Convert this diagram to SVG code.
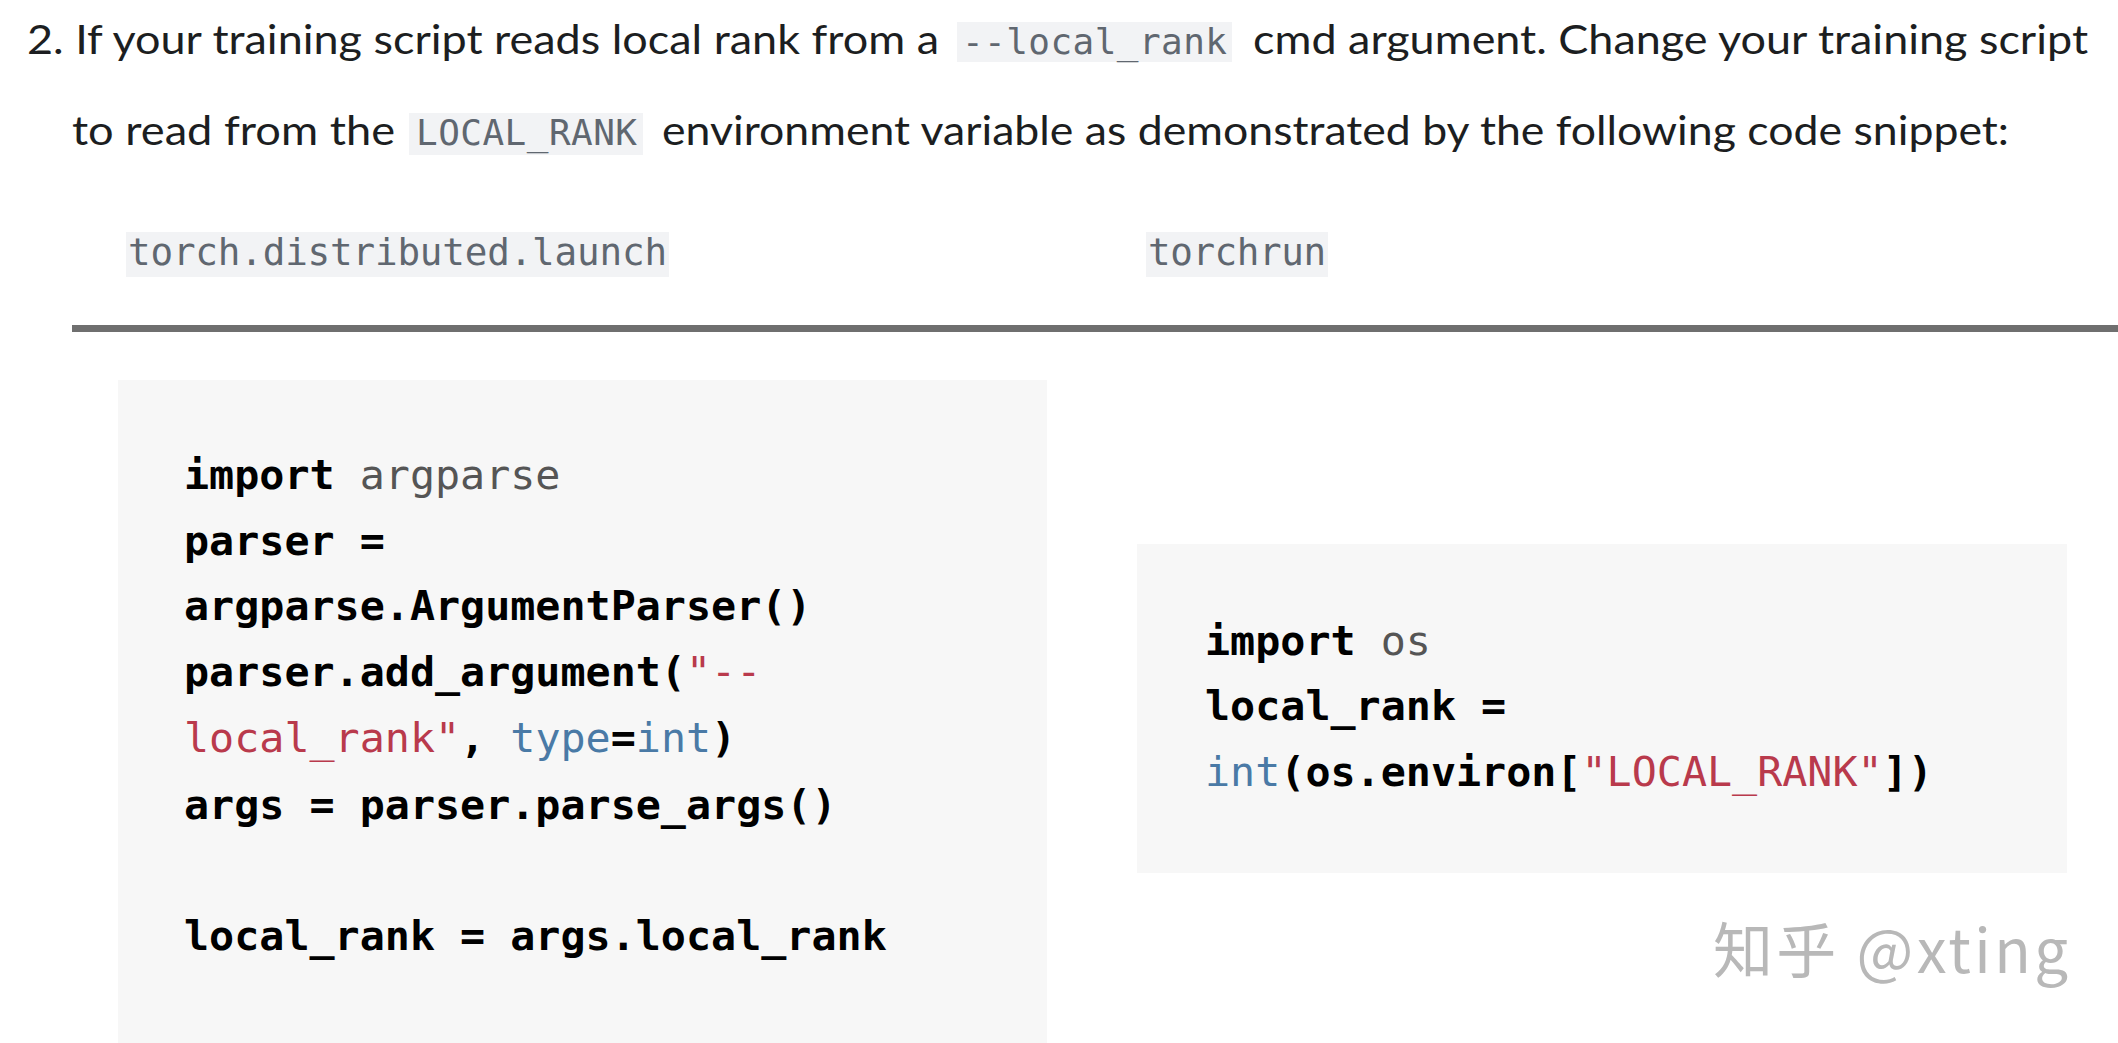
<svg xmlns="http://www.w3.org/2000/svg" width="2118" height="1043" viewBox="0 0 2118 1043">
<style>
.body{font-family:Lato,"Open Sans","Liberation Sans",sans-serif;font-size:40px;fill:#1c1e21}
.ic{font-family:"DejaVu Sans Mono","Liberation Mono",monospace;font-size:36px;fill:#606770}
.icbg{fill:#f2f3f5}
.code{font-family:"DejaVu Sans Mono","Liberation Mono",monospace;font-size:41.7px;font-weight:bold;fill:#000}
.g{fill:#555}.r{fill:#b93a4c;font-weight:normal}.b{fill:#4a7aa6;font-weight:normal}.gn{fill:#555;font-weight:normal}
.box{fill:#f7f7f7}
</style>
<rect width="2118" height="1043" fill="#fff"/>
<g id="intro">
<text class="body" x="27" y="54" textLength="912" lengthAdjust="spacingAndGlyphs">2. If your training script reads local rank from a</text>
<rect class="icbg" x="957" y="22" width="275" height="40"/>
<text class="ic" x="962" y="54" textLength="265">--local_rank</text>
<text class="body" x="1253" y="54" textLength="835" lengthAdjust="spacingAndGlyphs">cmd argument. Change your training script</text>
<text class="body" x="72" y="145" textLength="323" lengthAdjust="spacingAndGlyphs">to read from the</text>
<rect class="icbg" x="409" y="113" width="234" height="42"/>
<text class="ic" x="416" y="145" textLength="221">LOCAL_RANK</text>
<text class="body" x="662" y="145" textLength="1347" lengthAdjust="spacingAndGlyphs">environment variable as demonstrated by the following code snippet:</text>
</g>
<g id="tabs">
<rect class="icbg" x="126" y="232" width="543" height="45"/>
<text class="ic" x="128" y="265" textLength="539" style="font-size:37.6px">torch.distributed.launch</text>
<rect class="icbg" x="1146" y="232" width="182" height="45"/>
<text class="ic" x="1148" y="265" textLength="178" style="font-size:37.6px">torchrun</text>
<rect x="72" y="325" width="2046" height="7" fill="#6f6f6f"/>
</g>
<g id="left-code">
<rect class="box" x="118" y="380" width="929" height="663"/>
<text class="code" x="184" y="489">import <tspan class="gn">argparse</tspan></text>
<text class="code" x="184" y="555">parser =</text>
<text class="code" x="184" y="620">argparse.ArgumentParser()</text>
<text class="code" x="184" y="686">parser.add_argument(<tspan class="r">"--</tspan></text>
<text class="code" x="184" y="752"><tspan class="r">local_rank"</tspan>, <tspan class="b">type</tspan>=<tspan class="b">int</tspan>)</text>
<text class="code" x="184" y="819">args = parser.parse_args()</text>
<text class="code" x="184" y="950">local_rank = args.local_rank</text>
</g>
<g id="right-code">
<rect class="box" x="1137" y="544" width="930" height="329"/>
<text class="code" x="1205" y="655">import <tspan class="gn">os</tspan></text>
<text class="code" x="1205" y="720">local_rank =</text>
<text class="code" x="1205" y="786"><tspan class="b">int</tspan>(os.environ[<tspan class="r">"LOCAL_RANK"</tspan>])</text>
</g>
<g id="watermark">
<text x="1713" y="973" style="font-family:'Noto Sans CJK SC',sans-serif;font-size:60px;fill:#b8b8b8" textLength="355">知乎 @xting</text>
</g>
</svg>
